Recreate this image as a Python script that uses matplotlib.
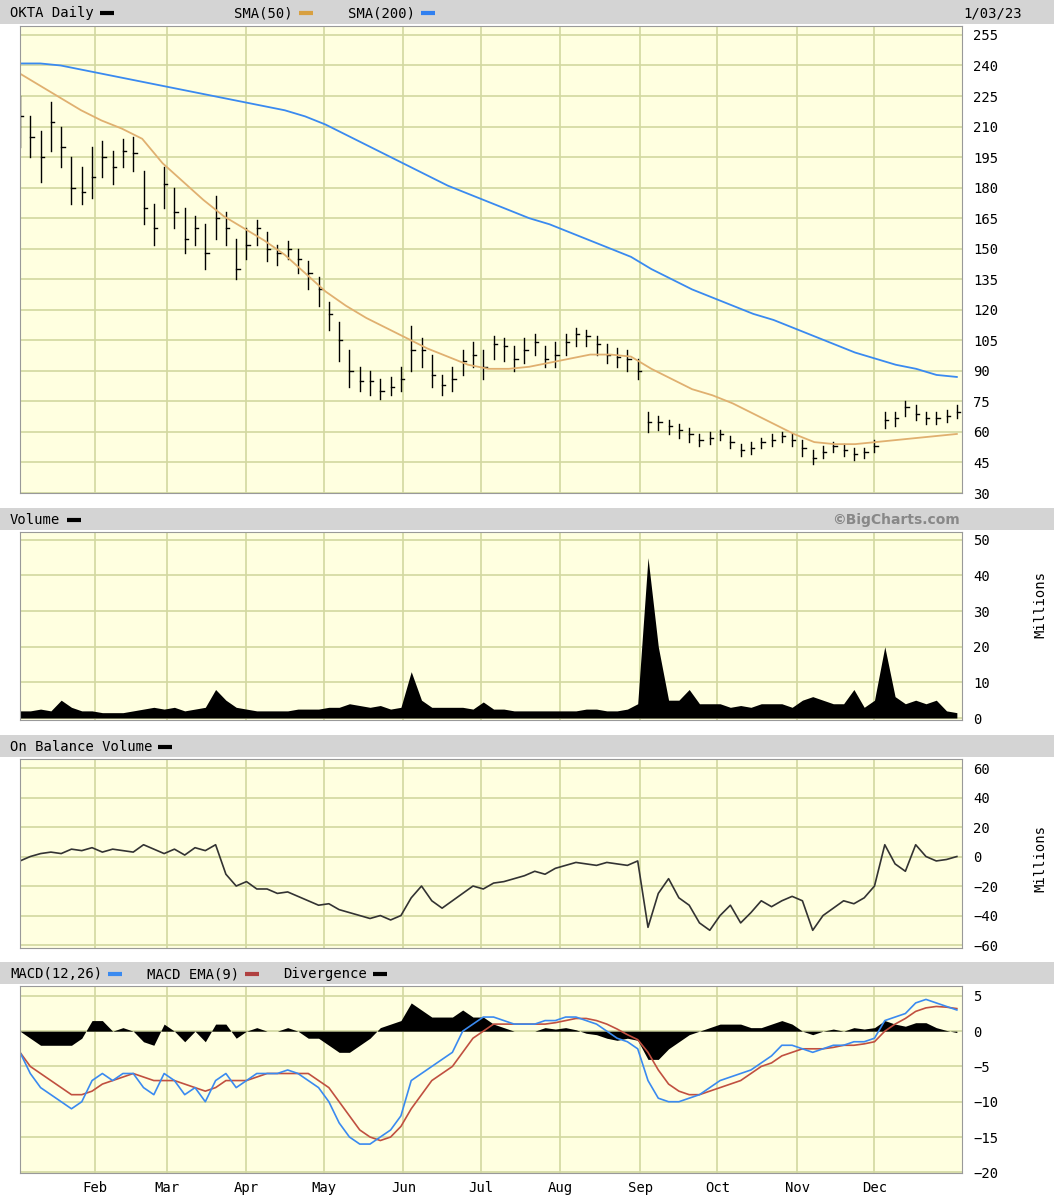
import matplotlib
matplotlib.use("Agg")
import matplotlib.pyplot as plt
import matplotlib.dates as mdates
import numpy as np
import pandas as pd

close = [215,205,195,212,200,180,178,185,195,190,198,197,170,160,182,168,155,160,148,165,
         160,140,152,160,150,148,150,145,138,130,118,105,90,85,85,80,82,86,100,100,
         88,83,86,95,98,92,103,102,96,100,104,96,98,104,108,107,103,98,97,96,
         90,65,65,63,61,59,56,57,59,55,51,52,55,56,58,56,52,47,50,53,
         51,49,50,53,66,67,72,69,67,67,68,70]
high = [225,215,208,222,210,195,190,200,203,198,204,205,188,172,190,180,170,166,162,176,
        168,155,160,164,158,152,154,150,144,136,124,114,100,92,90,86,87,92,112,106,
        98,88,92,100,104,100,107,106,102,106,108,102,104,108,111,110,107,103,101,100,
        96,70,68,66,64,62,59,60,61,58,54,55,57,59,60,59,56,51,53,55,
        54,52,52,56,70,70,75,73,70,70,71,73]
low = [200,195,183,198,190,172,172,175,185,182,190,188,162,152,170,160,148,152,140,155,
       152,135,145,152,144,142,145,138,130,122,110,95,82,80,78,76,78,80,90,92,
       82,78,80,88,92,86,96,95,90,94,98,92,92,98,102,102,98,94,92,90,
       86,60,61,59,57,55,53,54,56,52,48,49,52,53,55,53,48,44,47,50,
       48,46,47,50,62,63,68,66,64,64,65,67]
sma50 = [236,230,224,218,213,209,204,192,183,174,166,160,154,147,138,129,122,116,111,106,
         101,97,93,91,91,92,94,96,98,98,97,91,86,81,78,74,69,64,59,55,54,54,55,56,57,58,59]
sma200 = [241,241,240,238,236,234,232,230,228,226,224,222,220,218,215,211,206,201,196,191,
          186,181,177,173,169,165,162,158,154,150,146,140,135,130,126,122,118,115,111,107,
          103,99,96,93,91,88,87]
volume = [2,2,2.5,2,5,3,2,2,1.5,1.5,1.5,2,2.5,3,2.5,3,2,2.5,3,8,5,3,2.5,2,2,2,2,2.5,2.5,2.5,
          3,3,4,3.5,3,3.5,2.5,3,13,5,3,3,3,3,2.5,4.5,2.5,2.5,2,2,2,2,2,2,2,2.5,2.5,2,2,2.5,
          4,45,20,5,5,8,4,4,4,3,3.5,3,4,4,4,3,5,6,5,4,4,8,3,5,20,6,4,5,4,5,2,1.5]
obv = [-3,0,2,3,2,5,4,6,3,5,4,3,8,5,2,5,1,6,4,8,-12,-20,-17,-22,-22,-25,-24,-27,-30,-33,
       -32,-36,-38,-40,-42,-40,-43,-40,-28,-20,-30,-35,-30,-25,-20,-22,-18,-17,-15,-13,
       -10,-12,-8,-6,-4,-5,-6,-4,-5,-6,-3,-48,-25,-15,-28,-33,-45,-50,-40,-33,-45,-38,
       -30,-34,-30,-27,-30,-50,-40,-35,-30,-32,-28,-20,8,-5,-10,8,0,-3,-2,0]
macd = [-3,-6,-8,-9,-10,-11,-10,-7,-6,-7,-6,-6,-8,-9,-6,-7,-9,-8,-10,-7,-6,-8,-7,-6,-6,-6,
        -5.5,-6,-7,-8,-10,-13,-15,-16,-16,-15,-14,-12,-7,-6,-5,-4,-3,0,1,2,2,1.5,1,1,1,1.5,
        1.5,2,2,1.5,1,0,-1,-1.5,-2.5,-7,-9.5,-10,-10,-9.5,-9,-8,-7,-6.5,-6,-5.5,-4.5,-3.5,
        -2,-2,-2.5,-3,-2.5,-2,-2,-1.5,-1.5,-1,1.5,2,2.5,4,4.5,4,3.5,3]
signal = [-3,-5,-6,-7,-8,-9,-9,-8.5,-7.5,-7,-6.5,-6,-6.5,-7,-7,-7,-7.5,-8,-8.5,-8,-7,-7,-7,
          -6.5,-6,-6,-6,-6,-6,-7,-8,-10,-12,-14,-15,-15.5,-15,-13.5,-11,-9,-7,-6,-5,-3,-1,0,
          1,1,1,1,1,1,1.2,1.5,1.8,1.8,1.5,1,0.3,-0.5,-1.2,-3,-5.5,-7.5,-8.5,-9,-9,-8.5,-8,
          -7.5,-7,-6,-5,-4.5,-3.5,-3,-2.5,-2.5,-2.5,-2.3,-2,-2,-1.8,-1.5,0,1,1.8,2.8,3.3,3.5,3.4,3.2]

d4 = pd.date_range("2022-01-03", "2023-01-02", periods=len(close))
d8 = pd.date_range("2022-01-03", "2023-01-02", periods=len(sma50))
div = np.array(macd) - np.array(signal)

W, H = 1054, 1200
fig = plt.figure(figsize=(W/100, H/100), dpi=100)
fig.patch.set_facecolor("white")
BG = "#ffffe0"; GRID = "#d2d8a0"
FONT = "DejaVu Sans Mono"
CW = 8.3
x0, x1 = pd.Timestamp("2022-01-03"), pd.Timestamp("2023-01-04")
L, R = 20, 962

def ax_px(top, bot):
    a = fig.add_axes([L/W, 1-bot/H, (R-L)/W, (bot-top)/H])
    a.set_facecolor(BG)
    a.set_xlim(x0, x1)
    a.xaxis.set_major_locator(mdates.MonthLocator(bymonth=range(2, 13)))
    a.xaxis.set_major_formatter(mdates.DateFormatter("%b"))
    a.tick_params(axis="x", length=0, labelbottom=False)
    a.yaxis.tick_right()
    a.tick_params(axis="y", length=0, labelsize=10, pad=8)
    a.grid(True, color=GRID, lw=1.2)
    a.set_axisbelow(True)
    for s in a.spines.values():
        s.set_color("#999999"); s.set_linewidth(0.8)
    return a

def header(top, bot, items, right=None):
    b = fig.add_axes([0, 1-bot/H, 1, (bot-top)/H])
    b.set_facecolor("#d4d4d4"); b.set_xticks([]); b.set_yticks([])
    for s in b.spines.values(): s.set_visible(False)
    b.set_xlim(0, W); b.set_ylim(0, 1)
    for x, t, c in items:
        b.text(x, 0.45, t, family=FONT, fontsize=10, va="center")
        if c:
            xs = x + len(t)*CW + 7
            b.plot([xs, xs+14], [0.45, 0.45], color=c, lw=3, solid_capstyle="butt")
    if right:
        b.text(1022, 0.45, right, family=FONT, fontsize=10, va="center", ha="right")
    return b

def fonts(a):
    for lab in a.get_yticklabels() + a.get_xticklabels():
        lab.set_family(FONT)

header(0, 24, [(10, "OKTA Daily", "black"), (234, "SMA(50)", "#d8a040"), (348, "SMA(200)", "#3080f0")], "1/03/23")
a1 = ax_px(26, 493)
a1.set_ylim(30, 259.4)
a1.set_yticks(np.arange(30, 256, 15))
for d, h, l, c in zip(d4, high, low, close):
    a1.plot([d, d], [l, h], color="black", lw=1.0)
    a1.plot([d, d + pd.Timedelta(days=1.3)], [c, c], color="black", lw=1.0)
a1.plot(d8, sma50, color="#e0b070", lw=1.3)
a1.plot(d8, sma200, color="#3a8af0", lw=1.3)
fonts(a1)

hb = header(508, 530, [(10, "Volume", "black")])
hb.text(960, 0.45, "©BigCharts.com", fontsize=10, fontweight="bold", color="#888888", ha="right", va="center")
a2 = ax_px(532, 720)
a2.set_ylim(-0.56, 52.2)
a2.set_yticks([0, 10, 20, 30, 40, 50])
a2.fill_between(d4, 0, volume, color="black", lw=0)
fonts(a2)
fig.text(1040/W, 1-604/H, "Millions", rotation=90, family=FONT, fontsize=10, ha="center", va="center")

header(735, 757, [(10, "On Balance Volume", "black")])
a3 = ax_px(759, 948)
a3.set_ylim(-62, 66.1)
a3.set_yticks(np.arange(-60, 61, 20))
a3.plot(d4, obv, color="#333333", lw=1.2)
fonts(a3)
fig.text(1040/W, 1-858/H, "Millions", rotation=90, family=FONT, fontsize=10, ha="center", va="center")

header(962, 984, [(10, "MACD(12,26)", "#3a8af0"), (147, "MACD EMA(9)", "#b04040"), (283, "Divergence", "black")])
a4 = ax_px(986, 1173)
a4.set_ylim(-20.1, 6.4)
a4.set_yticks([5, 0, -5, -10, -15, -20])
a4.fill_between(d4, 0, div, color="black", lw=0)
a4.plot(d4, signal, color="#c05040", lw=1.2)
a4.plot(d4, macd, color="#3a8af0", lw=1.2)
a4.tick_params(axis="x", labelbottom=True, labelsize=10, pad=6)
fonts(a4)

fig.savefig("out.png", dpi=100)
